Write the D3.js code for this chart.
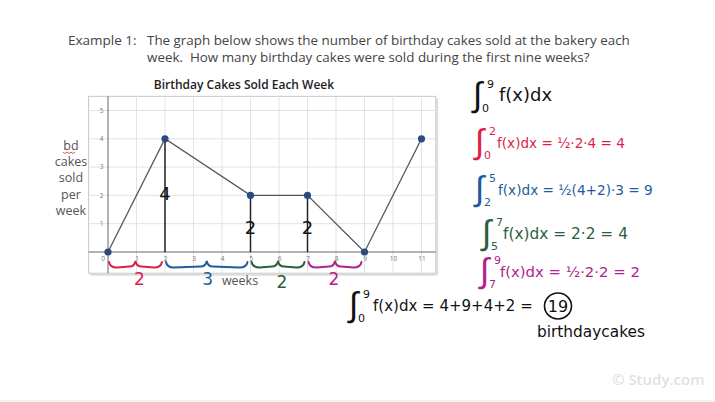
<!DOCTYPE html>
<html>
<head>
<meta charset="utf-8">
<script src="https://cdn.jsdelivr.net/npm/d3@7"></script>
<style>
  html, body { margin: 0; padding: 0; background: #fff; }
  svg { display: block; }
  text { white-space: pre; }
</style>
</head>
<body>
<svg id="chart" width="715" height="402"></svg>
<script>
// ---------- DATA ----------
const weeks = [0, 2, 5, 7, 9, 11];
const cakes = [0, 4, 2, 2, 0, 4];
const xTickValues = [0, 1, 2, 3, 4, 5, 6, 7, 8, 9, 10, 11];
const yTickValues = [1, 2, 3, 4, 5];
const chartTitle = "Birthday Cakes Sold Each Week";
const xAxisTitle = "weeks";
const yAxisTitleLines = ["bd", "cakes", "sold", "per", "week"];
const questionLabel = "Example 1:";
const questionLines = [
  "The graph below shows the number of birthday cakes sold at the bakery each",
  "week.  How many birthday cakes were sold during the first nine weeks?"
];
// annotated intervals
const intervalFrom = [0, 2, 5, 7];
const intervalTo = [2, 5, 7, 9];
const intervalWidthLabels = ["2", "3", "2", "2"];
// drop lines (heights written next to them)
const dropWeeks = [2, 5, 7];
const dropLabels = ["4", "2", "2"];
// integral work
const eqUpper = ["9", "2", "5", "7", "9", "9"];
const eqLower = ["0", "0", "2", "5", "7", "0"];
const eqBody = [
  "f(x)dx",
  "f(x)dx = ½·2·4 = 4",
  "f(x)dx = ½(4+2)·3 = 9",
  "f(x)dx = 2·2 = 4",
  "f(x)dx = ½·2·2 = 2",
  "f(x)dx = 4+9+4+2 ="
];
const totalAnswer = "19";
const answerUnit = "birthdaycakes";
const watermark = "© Study.com";

// ---------- STYLE / LAYOUT ----------
const inkColors = ["#dc1f47", "#1f5c9e", "#2b5e3b", "#b0228b"];
const eqColors = ["#111", "#dc1f47", "#1f5c9e", "#2b5e3b", "#b0228b", "#111"];
const eqLayout = [
  { x: 473, cy: 95, bx: 499, bw: 54 },
  { x: 475, cy: 142, bx: 497, bw: 128 },
  { x: 475, cy: 189, bx: 498, bw: 155 },
  { x: 482, cy: 233, bx: 503, bw: 125 },
  { x: 480, cy: 271, bx: 500, bw: 140 },
  { x: 349, cy: 305, bx: 373, bw: 160 }
];
const hand = "'DejaVu Sans', sans-serif";
const ui = "'Open Sans', sans-serif";

// set font size so the text's natural width matches a target width
function fitWidth(sel, target, base, maxSize) {
  sel.attr("font-size", base);
  const w = sel.node().getComputedTextLength();
  const s = Math.min(maxSize, base * target / w);
  sel.attr("font-size", s);
  return s;
}

const svg = d3.select("#chart");
svg.append("rect").attr("width", 715).attr("height", 402).attr("fill", "#fff");

const x = d3.scaleLinear().domain([0, 11]).range([108, 421.5]);
const y = d3.scaleLinear().domain([0, 5]).range([252, 110.5]);

const frame = { x0: x(-0.68), x1: x(11.5), y0: y(5.5), y1: y(-0.75) };

// ---------- question text ----------
svg.append("text").attr("x", 68).attr("y", 44.5)
  .attr("font-family", ui).attr("font-size", 13.5).attr("fill", "#444")
  .text(questionLabel);
questionLines.forEach((t, i) => {
  svg.append("text").attr("x", 147).attr("y", 44.5 + i * 17)
    .attr("font-family", ui).attr("font-size", 13.4).attr("fill", "#444")
    .text(t);
});

// ---------- chart frame ----------
const plot = svg.append("g");
plot.append("line").attr("x1", frame.x1 + 1.5).attr("x2", frame.x1 + 1.5)
  .attr("y1", frame.y0 + 2).attr("y2", frame.y1 + 1.5)
  .attr("stroke", "#ddd").attr("stroke-width", 2);
plot.append("line").attr("x1", frame.x0 + 2).attr("x2", frame.x1 + 1.5)
  .attr("y1", frame.y1 + 1.5).attr("y2", frame.y1 + 1.5)
  .attr("stroke", "#ddd").attr("stroke-width", 2);
plot.append("rect")
  .attr("x", frame.x0).attr("y", frame.y0)
  .attr("width", frame.x1 - frame.x0).attr("height", frame.y1 - frame.y0)
  .attr("fill", "#fff").attr("stroke", "#c8c8c8").attr("stroke-width", 1);

// grid
plot.append("g").selectAll("line").data(xTickValues.filter(d => d !== 0)).join("line")
  .attr("x1", d => x(d)).attr("x2", d => x(d))
  .attr("y1", frame.y0).attr("y2", frame.y1)
  .attr("stroke", "#e3e3e3").attr("stroke-width", 1);
plot.append("g").selectAll("line").data(yTickValues).join("line")
  .attr("x1", frame.x0).attr("x2", frame.x1)
  .attr("y1", d => y(d)).attr("y2", d => y(d))
  .attr("stroke", "#e3e3e3").attr("stroke-width", 1);

// axes lines
plot.append("line").attr("x1", x(0)).attr("x2", x(0))
  .attr("y1", frame.y0).attr("y2", frame.y1).attr("stroke", "#666").attr("stroke-width", 1);
plot.append("line").attr("x1", frame.x0).attr("x2", frame.x1)
  .attr("y1", y(0)).attr("y2", y(0)).attr("stroke", "#666").attr("stroke-width", 1);

// tick labels
plot.append("g").selectAll("text").data(xTickValues).join("text")
  .attr("x", d => d === 0 ? x(0) - 5 : x(d) + 0.5)
  .attr("y", y(0) + 8.5)
  .attr("text-anchor", "middle")
  .attr("font-family", ui).attr("font-size", 6.5).attr("fill", "#777")
  .text(d => d);
plot.append("g").selectAll("text").data(yTickValues).join("text")
  .attr("x", x(0) - 6.5).attr("y", d => y(d) + 2.3)
  .attr("text-anchor", "middle")
  .attr("font-family", ui).attr("font-size", 6.5).attr("fill", "#777")
  .text(d => d);

// title
svg.append("text").attr("x", 244).attr("y", 89)
  .attr("text-anchor", "middle").attr("font-family", ui).attr("font-weight", 600)
  .attr("font-size", 12).attr("fill", "#222").text(chartTitle);

// axis titles
svg.append("text").attr("x", 240).attr("y", 284.5)
  .attr("text-anchor", "middle").attr("font-family", ui)
  .attr("font-size", 12.5).attr("fill", "#555").text(xAxisTitle);
yAxisTitleLines.forEach((t, i) => {
  svg.append("text").attr("x", 71).attr("y", 150 + i * 16.2)
    .attr("text-anchor", "middle").attr("font-family", ui)
    .attr("font-size", 12.5).attr("fill", "#555").text(t);
});
// spell-check squiggle under "bd"
svg.append("path")
  .attr("d", d3.range(0, 7).map((k, i) => (i === 0 ? "M" : "L") + (63 + k * 2) + "," + (152.5 + (k % 2 ? 1 : -0.3))).join(""))
  .attr("fill", "none").attr("stroke", "#e03030").attr("stroke-width", 0.8);

// ---------- data line & points ----------
const pts = weeks.map((w, i) => [w, cakes[i]]);
plot.append("path").datum(pts)
  .attr("d", d3.line().x(d => x(d[0])).y(d => y(d[1])))
  .attr("fill", "none").attr("stroke", "#555").attr("stroke-width", 1.3);

// drop lines (hand annotations)
plot.append("g").selectAll("line").data(dropWeeks).join("line")
  .attr("x1", d => x(d)).attr("x2", d => x(d))
  .attr("y1", d => y(cakes[weeks.indexOf(d)])).attr("y2", y(0))
  .attr("stroke", "#222").attr("stroke-width", 1.5);

plot.append("g").selectAll("circle").data(pts).join("circle")
  .attr("cx", d => x(d[0])).attr("cy", d => y(d[1])).attr("r", 3.6)
  .attr("fill", "#2c4a7c");

// drop labels
plot.append("g").selectAll("text").data(dropWeeks).join("text")
  .attr("x", d => x(d))
  .attr("y", (d, i) => y(cakes[weeks.indexOf(d)] / 2) + (i === 0 ? 5 : 10))
  .attr("text-anchor", "middle")
  .attr("font-family", hand).attr("font-size", 18).attr("fill", "#111")
  .text((d, i) => dropLabels[i]);

// braces
function bracePath(x0, x1) {
  const m = (x0 + x1) / 2, yb = 267.5, yt = 262;
  return `M${x0},${yt} Q${x0 + 1},${yb} ${x0 + 8},${yb} L${m - 6},${yb - 1} Q${m - 1},${yb - 1} ${m},${yt - 1}` +
         ` Q${m + 1},${yb - 1} ${m + 6},${yb - 1} L${x1 - 8},${yb} Q${x1 - 1},${yb} ${x1},${yt}`;
}
intervalFrom.forEach((a, i) => {
  const b = intervalTo[i];
  svg.append("path").attr("d", bracePath(x(a) + 1, x(b) - 3))
    .attr("fill", "none").attr("stroke", inkColors[i]).attr("stroke-width", 2)
    .attr("stroke-linecap", "round");
  svg.append("text").attr("x", (x(a) + x(b)) / 2 + [3, 0, 3, -2][i])
    .attr("y", 285 + [0, 0, 3, 0][i])
    .attr("text-anchor", "middle").attr("font-family", hand)
    .attr("font-size", 17).attr("fill", inkColors[i]).text(intervalWidthLabels[i]);
});

// ---------- integrals ----------
eqBody.forEach((body, i) => {
  const L = eqLayout[i], c = eqColors[i];
  const g = svg.append("g").attr("fill", c).attr("font-family", hand);
  g.append("text").attr("x", L.x).attr("y", L.cy + 11)
    .attr("font-size", 34).attr("font-weight", 300).text("∫");
  g.append("text").attr("x", L.x + 14).attr("y", L.cy - 7)
    .attr("font-size", 11).text(eqUpper[i]);
  g.append("text").attr("x", L.x + 9).attr("y", L.cy + 17)
    .attr("font-size", 11).text(eqLower[i]);
  const t = g.append("text").attr("x", L.bx).attr("y", L.cy + 6).text(body);
  fitWidth(t, L.bw, 17, 18);
});

// total answer
svg.append("ellipse").attr("cx", 558).attr("cy", 306).attr("rx", 13.5).attr("ry", 13)
  .attr("fill", "none").attr("stroke", "#111").attr("stroke-width", 1.6);
svg.append("text").attr("x", 558).attr("y", 312).attr("text-anchor", "middle")
  .attr("font-family", hand).attr("font-size", 16).attr("fill", "#111").text(totalAnswer);
const unit = svg.append("text").attr("x", 537).attr("y", 337)
  .attr("font-family", hand).attr("fill", "#111").text(answerUnit);
fitWidth(unit, 108, 17, 18);

// watermark
svg.append("text").attr("x", 612).attr("y", 385)
  .attr("font-family", ui).attr("font-weight", 600).attr("font-size", 15).attr("fill", "#e2e2e2")
  .text(watermark);
svg.append("line").attr("x1", 0).attr("x2", 715).attr("y1", 401).attr("y2", 401)
  .attr("stroke", "#e6e6e6");
</script>
</body>
</html>
